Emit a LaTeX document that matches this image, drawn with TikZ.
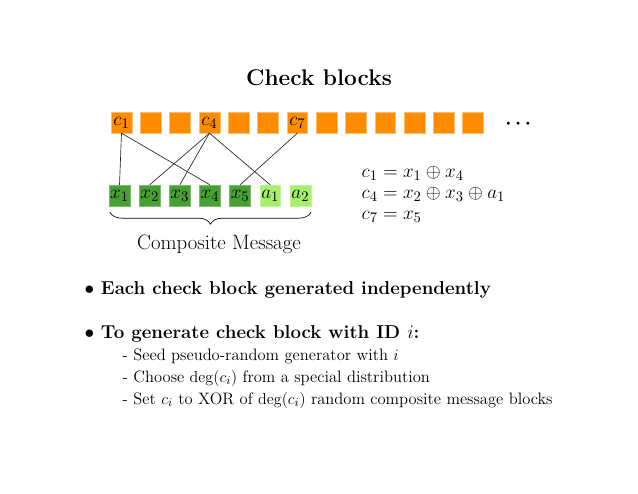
\documentclass[tikz,border=0pt]{standalone}
\usepackage{amsmath,amssymb}
\usepackage{tikz}
\usetikzlibrary{decorations.pathreplacing}
\definecolor{chkorange}{RGB}{255,140,0}
\definecolor{chkedge}{RGB}{255,190,110}
\definecolor{msggreen}{RGB}{70,160,50}
\definecolor{auxgreen}{RGB}{165,240,105}

\begin{document}
\begin{tikzpicture}[x=0.75pt, y=-0.75pt,
  chkblk/.style={rectangle, minimum size=15.6pt, inner sep=0pt, fill=chkorange, draw=chkedge, line width=0.4pt, font=\fontsize{15}{17}\selectfont},
  msgblk/.style={chkblk, fill=msggreen, draw=msggreen!70!white},
  auxblk/.style={chkblk, fill=auxgreen, draw=auxgreen!70!white},
  link/.style={line width=0.5pt, draw=black!85}]
\newcommand{\Cgap}{29.3}; % spacing of check blocks
\newcommand{\Mgap}{30.15}; % spacing of message blocks
\newcommand{\Cx}{121.5}; % first check block
\newcommand{\Mx}{119.5}; % first message block

\useasboundingbox (0,0) rectangle (638,493);

\node (title) at (319,78) {\fontsize{17}{20}\bfseries Check blocks};

% check blocks
\node[chkblk] (C1)  at (\Cx + 0*\Cgap, 122.5) {$c_1$};
\node[chkblk] (C2)  at (\Cx + 1*\Cgap, 122.5) {};
\node[chkblk] (C3)  at (\Cx + 2*\Cgap, 122.5) {};
\node[chkblk] (C4)  at (\Cx + 3*\Cgap, 122.5) {$c_4$};
\node[chkblk] (C5)  at (\Cx + 4*\Cgap, 122.5) {};
\node[chkblk] (C6)  at (\Cx + 5*\Cgap, 122.5) {};
\node[chkblk] (C7)  at (\Cx + 6*\Cgap, 122.5) {$c_7$};
\node[chkblk] (C8)  at (\Cx + 7*\Cgap, 122.5) {};
\node[chkblk] (C9)  at (\Cx + 8*\Cgap, 122.5) {};
\node[chkblk] (C10) at (\Cx + 9*\Cgap, 122.5) {};
\node[chkblk] (C11) at (\Cx + 10*\Cgap, 122.5) {};
\node[chkblk] (C12) at (\Cx + 11*\Cgap, 122.5) {};
\node[chkblk] (C13) at (\Cx + 12*\Cgap, 122.5) {};
\node (dots) at (520,124) {\fontsize{14}{16}\selectfont $\boldsymbol{\cdots}$};

% composite message
\node[msgblk] (X1) at (\Mx + 0*\Mgap, 195.5) {$x_1$};
\node[msgblk] (X2) at (\Mx + 1*\Mgap, 195.5) {$x_2$};
\node[msgblk] (X3) at (\Mx + 2*\Mgap, 195.5) {$x_3$};
\node[msgblk] (X4) at (\Mx + 3*\Mgap, 195.5) {$x_4$};
\node[msgblk] (X5) at (\Mx + 4*\Mgap, 195.5) {$x_5$};
\node[auxblk] (A1) at (\Mx + 5*\Mgap, 195.5) {$a_1$};
\node[auxblk] (A2) at (\Mx + 6*\Mgap, 195.5) {$a_2$};
%

\draw[link] (C1.south) -- (X1.north);
\draw[link] (C1.south) -- (X4.north);
\draw[link] (C4.south) -- (X2.north);
\draw[link] (C4.south) -- (X3.north);
\draw[link] (C4.south) -- (A1.north);
\draw[link] (C7.south) -- (X5.north);

\draw[decorate, decoration={brace, mirror, amplitude=9pt}, line width=0.5pt] (X1.south west) ++(1,6) coordinate (BL) -- (A2.south east |- BL) coordinate (BR);
\node (compmsg) at (219,244) {\fontsize{15.6}{18}\selectfont Composite Message};

\node[anchor=west] (eqs) at (357,194) {\fontsize{15}{17}\selectfont
  $\begin{aligned} c_1 &= x_1 \oplus x_4\\[-4.5pt] c_4 &= x_2 \oplus x_3 \oplus a_1\\[-4.5pt] c_7 &= x_5 \end{aligned}$};

% bullets
\node[anchor=base west] (b1) at (80,294) {\fontsize{14}{17}\selectfont $\bullet$\hspace{5pt}\bfseries Each check block generated independently};
\node[anchor=base west] (b2) at (80,338) {\fontsize{14}{17}\selectfont $\bullet$\hspace{5pt}\bfseries To generate check block with ID $i$:};
\node[anchor=base west] (s1) at (118,360) {\fontsize{12.4}{14}\selectfont -\hspace{4pt}Seed pseudo-random generator with $i$};
\node[anchor=base west] (s2) at (118,382) {\fontsize{12.4}{14}\selectfont -\hspace{4pt}Choose $\deg(c_i)$ from a special distribution};
\node[anchor=base west] (s3) at (118,404) {\fontsize{12.4}{14}\selectfont -\hspace{4pt}Set $c_i$ to XOR of $\deg(c_i)$ random composite message blocks};
\end{tikzpicture}
\end{document}
